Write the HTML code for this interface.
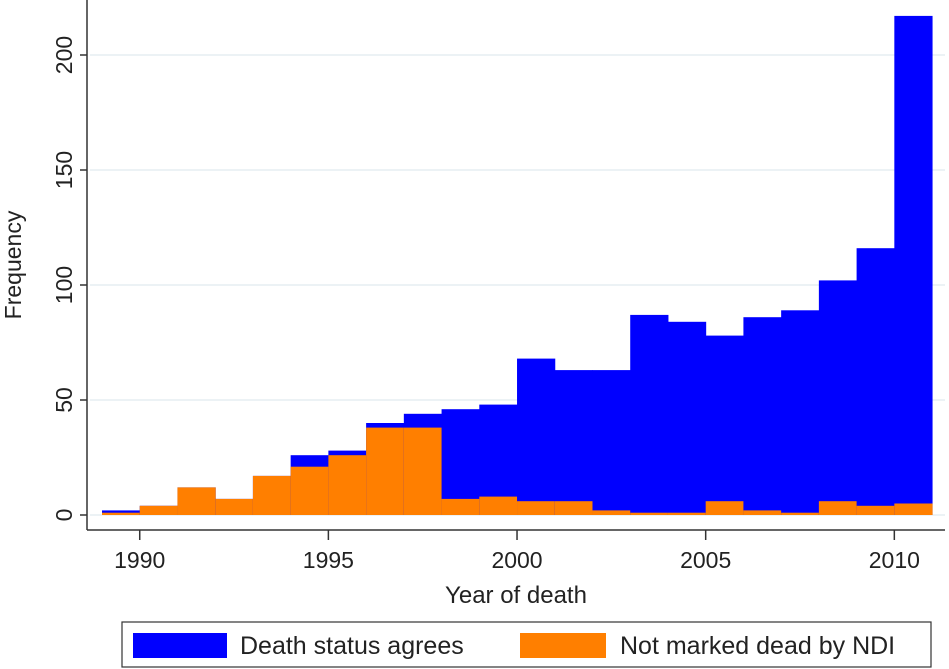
<!DOCTYPE html>
<html><head><meta charset="utf-8"><style>
body{margin:0;background:#fff;}
svg{display:block;font-family:"Liberation Sans",Arial,sans-serif;}
</style></head><body>
<svg id="chart" width="949" height="669" viewBox="0 0 949 669">
<g id="grid"></g>
<g id="bars"></g>
<line x1="87" y1="0" x2="87" y2="530" stroke="#333" stroke-width="1.5"/>
<line x1="87" y1="530" x2="945" y2="530" stroke="#333" stroke-width="1.5"/>
<g id="yticks"></g>
<g id="xticks"></g>
<text transform="translate(21,265) rotate(-90)" text-anchor="middle" font-size="23" fill="#222">Frequency</text>
<text x="516" y="603" text-anchor="middle" font-size="24" fill="#222">Year of death</text>
<g>
<rect x="122" y="622" width="809" height="45" fill="#fff" stroke="#333" stroke-width="1.2"/>
<rect x="133" y="633" width="94" height="25" fill="#0000ff"/>
<text x="240" y="654" font-size="25" fill="#222">Death status agrees</text>
<rect x="520" y="633" width="86" height="25" fill="#ff7f00"/>
<text x="620" y="654" font-size="25" fill="#222">Not marked dead by NDI</text>
</g>
</svg>
<script>
const binStarts=[1989,1990,1991,1992,1993,1994,1995,1996,1997,1998,1999,2000,2001,2002,2003,2004,2005,2006,2007,2008,2009,2010];
const totalValues=[2,4,12,7,17,26,28,40,44,46,48,68,63,63,87,84,78,86,89,102,116,217];
const notMarkedValues=[1,4,12,7,17,21,26,38,38,7,8,6,6,2,1,1,6,2,1,6,4,5];
const yTicks=[0,50,100,150,200];
const xTicks=[1990,1995,2000,2005,2010];
const binW=37.73;
function X(v){return 102+(v-1989)*binW;}
function Y(v){return 515-v*2.3;}
const NS="http://www.w3.org/2000/svg";
function mk(tag,attrs,parent){const e=document.createElementNS(NS,tag);for(const k in attrs)e.setAttribute(k,attrs[k]);document.getElementById(parent).appendChild(e);return e;}
yTicks.forEach(t=>{
  const g=mk('line',{x1:90,x2:945,y1:Y(t),y2:Y(t),stroke:'#e6eef2','stroke-width':1.5},'grid');
  
  
  const tk=mk('line',{x1:80,x2:87,y1:Y(t),y2:Y(t),stroke:'#333','stroke-width':1.5},'yticks');
  
  
  const tx=mk('text',{transform:`translate(72,${Y(t)}) rotate(-90)`,'text-anchor':'middle','font-size':23,fill:'#222'},'yticks');
  tx.textContent=t;
  
  
});
xTicks.forEach(t=>{
  const x=X(t);
  const tk=mk('line',{x1:x,x2:x,y1:530,y2:540,stroke:'#333','stroke-width':1.5},'xticks');
  
  
  const tx=mk('text',{x:x,y:568,'text-anchor':'middle','font-size':23,fill:'#222'},'xticks');
  tx.textContent=t;
  
  
});
binStarts.forEach((b,i)=>{
  const x=X(b),w=binW+0.5;
  const r1=mk('rect',{x:x,y:Y(totalValues[i]),width:w,height:Y(0)-Y(totalValues[i]),fill:'#0000ff'},'bars');
  
  
  const r2=mk('rect',{x:x,y:Y(notMarkedValues[i]),width:w,height:Y(0)-Y(notMarkedValues[i]),fill:'#ff7f00'},'bars');
  
  
});
</script>
</body></html>
